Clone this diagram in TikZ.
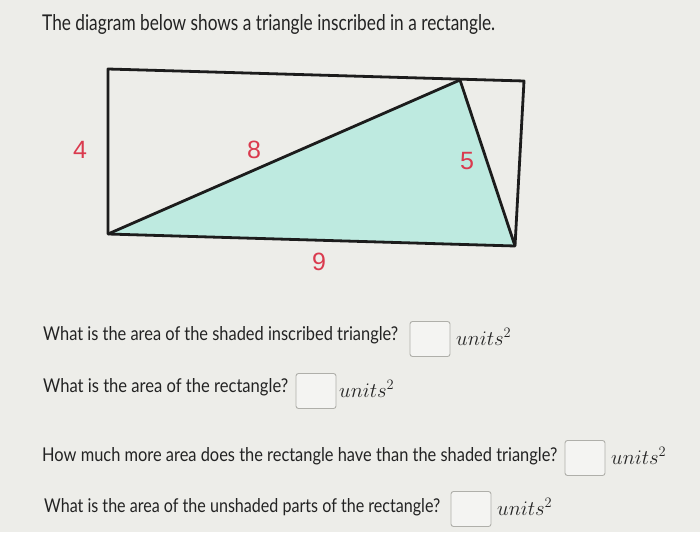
\documentclass[tikz,border=0pt]{standalone}
\usepackage{fontspec}
\setmainfont{Lato}
\newfontfamily\labfont{Liberation Sans}
\usepackage{graphicx}
\definecolor{bg}{RGB}{237,237,233}
\definecolor{ink}{RGB}{28,28,28}
\definecolor{trifill}{RGB}{190,234,224}
\definecolor{lab}{RGB}{218,58,78}
\definecolor{qtext}{RGB}{35,35,35}
\definecolor{boxline}{RGB}{175,175,170}
\newcommand\qtxt[3]{\resizebox{#1}{#2}{#3}}
\begin{document}
\begin{tikzpicture}[x=1pt,y=-1pt,
  edge/.style={draw=ink,line width=2.8pt,line join=round},
  dimlab/.style={text=lab,font=\labfont\fontsize{25}{25}\selectfont,inner sep=0pt},
  qline/.style={anchor=base west,inner sep=0pt,text=qtext},
  ansbox/.style={draw=boxline,line width=0.9pt,rounded corners=2.5pt,fill=bg!60!white,minimum width=40pt,minimum height=35pt,inner sep=0pt},
  unitlab/.style={anchor=base west,inner sep=0pt,text=qtext,font=\fontsize{21}{21}\selectfont}]
\fill[bg] (0,0) rectangle (700,532);
\useasboundingbox (0,0) rectangle (700,532);
% title
\node[qline] (title) at (42,31) {\qtxt{453pt}{16pt}{The diagram below shows a triangle inscribed in a rectangle.}};
% rectangle corners
\coordinate (TL) at (108,69);
\coordinate (TR) at (524,81);
\coordinate (BR) at (515,246);
\coordinate (BL) at (108,234);
\coordinate (T) at (460,80);
\fill[trifill] (BL) -- (T) -- (BR) -- cycle;
\draw[edge] (TL) -- (TR) -- (BR) -- (BL) -- cycle;
\draw[edge] (BL) -- (T) -- (BR);
% labels
\node[dimlab] (l4) at (80,150) {4};
\node[dimlab] (l8) at (254,150) {8};
\node[dimlab] (l5) at (467,161) {5};
\node[dimlab] (l9) at (319,262) {9};
% questions
\node[qline] (q1) at (43,340) {\qtxt{355pt}{14pt}{What is the area of the shaded inscribed triangle?}};
\node[ansbox] (b1) at (430,339) {};
\node[unitlab] (u1) at (456,345) {$units^2$};
\node[qline] (q2) at (43,392) {\qtxt{245pt}{14pt}{What is the area of the rectangle?}};
\node[ansbox] (b2) at (316,391) {};
\node[unitlab] (u2) at (339,397) {$units^2$};
\node[qline] (q3) at (42,461) {\qtxt{515pt}{14pt}{How much more area does the rectangle have than the shaded triangle?}};
\node[ansbox] (b3) at (585,458) {};
\node[unitlab] (u3) at (611,464) {$units^2$};
\node[qline] (q4) at (44,512) {\qtxt{396pt}{14pt}{What is the area of the unshaded parts of the rectangle?}};
\node[ansbox] (b4) at (471,509) {};
\node[unitlab] (u4) at (497,515) {$units^2$};
\end{tikzpicture}
\end{document}
